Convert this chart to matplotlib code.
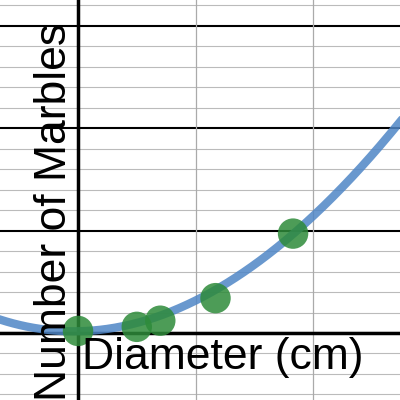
import matplotlib.pyplot as plt
import numpy as np

diameter_cm = [0.0, 0.5, 0.7, 1.17, 1.83]
marble_count = [0.02, 0.06, 0.12, 0.34, 0.97]

# points
curve_x = [-0.664, 0.14, 1.0, 1.83, 2.74]
curve_y = [0.13, 0.03, 0.31, 0.97, 2.06]

x_min, x_max = -0.664, 2.74
y_min, y_max = -0.654, 3.25

plt.rcParams["font.family"] = ["Liberation Sans", "DejaVu Sans"]
fig = plt.figure(figsize=(4, 4), dpi=100)
ax = fig.add_axes([0, 0, 1, 1])
ax.set_xlim(x_min, x_max)
ax.set_ylim(y_min, y_max)
ax.axis("off")

for gy in np.arange(-0.6, 3.3, 0.2):
    major = abs(gy - round(gy)) < 1e-6
    ax.axhline(gy, color="black" if major else "#bbbbbb", lw=1.5 if major else 0.8, zorder=1)
for gx in [1, 2]:
    ax.axvline(gx, color="#aaaaaa", lw=0.9, zorder=1)
ax.axvline(0, color="black", lw=2.5, zorder=2)
ax.axhline(0, color="black", lw=2.5, zorder=2)

coeffs = np.polyfit(curve_x, curve_y, 3)
xs = np.linspace(x_min, x_max, 300)
ax.plot(xs, np.polyval(coeffs, xs), color="#4f86c6", lw=6, alpha=0.85, zorder=3)
ax.scatter(diameter_cm, marble_count, s=480, color="#2e8b3a", alpha=0.85, zorder=4, edgecolors="none")

ax.text(0.03, -0.24, "Diameter (cm)", fontsize=32, ha="left", va="center", zorder=5)
ax.text(-0.2, 1.18, "Number of Marbles", fontsize=32, rotation=90, ha="center", va="center", zorder=5)

fig.savefig("out.png", dpi=100)
